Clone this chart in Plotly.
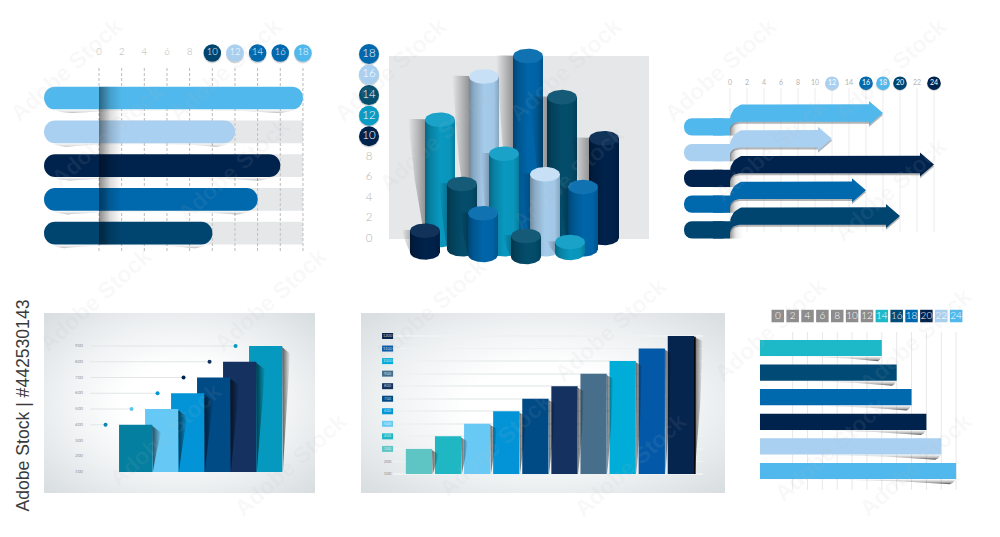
import numpy as np
import plotly.graph_objects as go

# ---------- data ----------
SKY, PALE, NAVY, BLUE, DEEP = "#50b8ec", "#a9d0f0", "#00234d", "#0068ad", "#004470"
TEAL, CYAN, PETROL = "#0a9cc4", "#1eb9c9", "#044f6e"

p1_ticks = [0, 2, 4, 6, 8, 10, 12, 14, 16, 18]
p1_values = [18, 12, 16, 14, 10]
p1_colors = [SKY, PALE, NAVY, BLUE, DEEP]
p1_bubbles = [10, 12, 14, 16, 18]
p1_bubble_colors = [DEEP, PALE, BLUE, BLUE, SKY]

p2_ticks = [0, 2, 4, 6, 8, 10, 12, 14, 16, 18]
p2_bubbles = [10, 12, 14, 16, 18]
p2_bubble_colors = [NAVY, TEAL, PETROL, PALE, BLUE]
cyl_tops = [11.6, 15.8, 17.8, 13.8, 9.8, 5.35, 8.3, 6.3, 5.05, 0.8, 2.5, 0.3, -0.3]
cyl_bases = [-0.1, -0.1, -0.1, -0.1, 0.1, -1.0, -1.0, -1.0, -1.0, -1.3, -1.55, -1.75, -1.35]
cyl_depth_x = [440, 484, 528, 562, 604, 462, 504, 545, 583, 425, 483, 526, 570]
cyl_colors = [TEAL, PALE, BLUE, PETROL, NAVY, PETROL, TEAL, PALE, BLUE, NAVY, BLUE, PETROL, TEAL]

p3_ticks = list(range(0, 26, 2))
p3_values = [18, 12, 24, 16, 20]
p3_colors = [SKY, PALE, NAVY, BLUE, DEEP]
p3_bubbles = [12, 16, 18, 20, 24]
p3_bubble_colors = [PALE, BLUE, SKY, DEEP, NAVY]

p4_ticks = [100, 200, 300, 400, 500, 600, 700, 800, 900]
p4_values = [400, 500, 600, 700, 800, 900]
p4_colors = ["#047f9f", "#66c9f5", "#0394d8", "#004a85", "#14315f", "#0699bf"]
p4_dot_colors = ["#0a86ad", "#5cc6f2", "#0394d8", "#00234d", "#14315f", "#0699bf"]

p5_ticks = [100, 200]
p5_values = [300, 400, 500, 600, 700, 800, 900, 1000, 1100, 1200]
p5_colors = ["#5fc4c4", "#1fb7c4", "#69c9f5", "#0394d8", "#004a85", "#14315f",
             "#476f8c", "#00add8", "#0359a8", "#05244e"]

p6_ticks = list(range(0, 26, 2))
p6_values = [14, 16, 18, 20, 22, 24]
p6_colors = [CYAN, "#004a75", BLUE, NAVY, PALE, SKY]
p6_chip_colors = ["#8e8c8c"] * 7 + p6_colors

side_text = "Adobe Stock | #442530143"
mark_text = "Adobe Stock"
mark_spots = [(66, 70), (225, 70), (390, 70), (565, 70), (720, 70), (890, 70),
              (107, 135), (435, 140), (770, 150), (233, 170), (568, 178), (890, 190),
              (95, 300), (270, 300), (430, 310), (610, 330), (770, 330), (915, 340),
              (165, 435), (290, 465), (495, 445), (630, 465), (830, 450), (915, 465)]

# ---------- helpers ----------
W, H = 1000, 537
FONT = "Lato"
traces = []
shapes = []
layout_axes = {}


def shade(h, f):
    r = [int(h[i:i + 2], 16) for i in (1, 3, 5)]
    if f <= 1:
        c = [int(v * f) for v in r]
    else:
        c = [int(v + (255 - v) * (f - 1)) for v in r]
    return "rgb(%d,%d,%d)" % tuple(c)


def poly(ax, xs, ys, color, grad=None):
    kw = dict(fillcolor=color) if grad is None else dict(fillgradient=grad)
    traces.append(go.Scatter(
        x=list(xs), y=list(ys), xaxis="x" + ax, yaxis="y" + ax, mode="lines", fill="toself",
        line=dict(width=0), hoverinfo="skip", showlegend=False, **kw))


def hgrad(*stops):
    return dict(type="horizontal", colorscale=list(stops))


def vgrad(*stops):
    return dict(type="vertical", colorscale=list(stops))


def labels(ax, xs, ys, texts, size, color="#b4b4b4", marker=None, msize=0, symbol="circle"):
    kw = {}
    if marker is not None:
        kw["marker"] = dict(color=marker, size=msize, symbol=symbol, line=dict(width=0))
    traces.append(go.Scatter(
        x=list(xs), y=list(ys), xaxis="x" + ax, yaxis="y" + ax,
        mode="markers+text" if marker is not None else "text",
        text=[str(t) for t in texts], textposition="middle center",
        textfont=dict(family=FONT, size=size, color=color, weight=400 if size < 8 else 300),
        hoverinfo="skip", showlegend=False, **kw))


def hbar(ax, rows, lengths, base, width, colors, radius=0):
    traces.append(go.Bar(
        orientation="h", y=list(rows), x=list(lengths), base=base, width=width,
        xaxis="x" + ax, yaxis="y" + ax,
        marker=dict(color=colors, cornerradius=radius, line=dict(width=0)),
        hoverinfo="skip", showlegend=False))


def vbar(ax, xs, tops, base, width, colors):
    traces.append(go.Bar(
        x=list(xs), y=[t - base for t in tops], base=base, width=width,
        xaxis="x" + ax, yaxis="y" + ax,
        marker=dict(color=colors, line=dict(width=0)),
        hoverinfo="skip", showlegend=False))


def backdrop(ax, xr, yr):
    gx = np.linspace(xr[0], xr[1], 50)
    gy = np.linspace(yr[0], yr[1], 36)
    X, Y = np.meshgrid(gx, gy)
    cx, cy = (xr[0] + xr[1]) / 2, (yr[0] + yr[1]) / 2
    d = np.sqrt(((X - cx) / ((xr[1] - xr[0]) / 2)) ** 2 + ((Y - cy) / ((yr[1] - yr[0]) / 2)) ** 2)
    traces.append(go.Heatmap(
        x=gx, y=gy, z=np.clip((d - 0.42) / 0.95, 0, 1), zmin=0, zmax=1, zsmooth="best",
        xaxis="x" + ax, yaxis="y" + ax, showscale=False, hoverinfo="skip",
        colorscale=[[0, "#ffffff"], [0.5, "#eef1f2"], [1, "#d9dee1"]]))


def panel(ax, xbox, x0, ux, ybox, y0, uy):
    """Axis box in image pixels; x0/y0 is the pixel of value 0, ux/uy pixels per unit
    (uy > 0: y grows upward, uy < 0: y grows downward)."""
    xr = [(xbox[0] - x0) / ux, (xbox[1] - x0) / ux]
    yr = [(y0 - ybox[1]) / uy, (y0 - ybox[0]) / uy]
    base = dict(showticklabels=False, zeroline=False, showline=False, showgrid=False,
                ticks="", fixedrange=True)
    layout_axes["xaxis" + ax] = dict(domain=[xbox[0] / W, xbox[1] / W], range=xr, anchor="y" + ax, **base)
    layout_axes["yaxis" + ax] = dict(domain=[1 - ybox[1] / H, 1 - ybox[0] / H], range=yr, anchor="x" + ax, **base)
    return xr, yr


def vgrid(ax, ticks, y0, y1, color, dash="solid"):
    for t in ticks:
        shapes.append(dict(type="line", xref="x" + ax, yref="y" + ax, x0=t, x1=t, y0=y0, y1=y1,
                           line=dict(color=color, width=1, dash=dash), layer="below"))


def taper(t, edge=0.03):
    return np.clip(np.minimum(t, 1 - t) / edge, 0, 1)


# ---------- panel 1: rounded bars ----------
panel("", (40, 320), 99, 11.33, (40, 262), 98, -33.8)
vgrid("", p1_ticks, -0.888, 4.556, "#b9b9b9", "3px,2px")
rows1 = list(range(len(p1_values)))
BAR1_H = 0.672
START1 = -4.85
hbar("", rows1[1:], [max(p1_ticks)] * 4, 0, BAR1_H, "rgba(200,201,206,0.45)")
hbar("", rows1, [v - START1 for v in p1_values], START1, BAR1_H, p1_colors, 11)
for r, v in zip(rows1, p1_values):
    t = np.linspace(0, 1, 60)
    xs = START1 + 0.6 + t * (v - START1 - 1.0)
    prof = (0.14 + 0.86 * np.abs(2 * t - 1) ** 3) * taper(t, 0.08)
    top = r + BAR1_H / 2 * np.ones_like(t)
    poly("", np.r_[xs, xs[::-1]], np.r_[top, (top + 0.17 * prof)[::-1]], None,
         vgrad([0, "rgba(0,0,0,0.30)"], [0.35, "rgba(0,0,0,0.12)"], [1, "rgba(0,0,0,0)"]))
top1, bot1 = -BAR1_H / 2, rows1[-1] + BAR1_H / 2
poly("", [0, 2, 2, 0, 0], [top1, top1, bot1, bot1, top1], None,
     hgrad([0, "rgba(0,0,0,0.46)"], [0.5, "rgba(0,0,0,0.14)"], [1, "rgba(0,0,0,0)"]))
y_lab1 = -1.33
plain1 = [t for t in p1_ticks if t not in p1_bubbles]
labels("", plain1, [y_lab1] * len(plain1), plain1, 9.5)
labels("", p1_bubbles, [y_lab1 + 0.04] * 5, [""] * 5, 1, marker="rgba(0,0,0,0.16)", msize=18)
labels("", p1_bubbles, [y_lab1] * 5, p1_bubbles, 9.5, "#ffffff", p1_bubble_colors, 17.5)

# ---------- panel 2: cylinders ----------
panel("2", (355, 660), 0, 1, (30, 270), 239, 10.28)
shapes.append(dict(type="rect", xref="x2", yref="y2", x0=389, x1=649, y0=0, y1=17.8,
                   fillcolor="#e6e7e9", line=dict(width=0), layer="below"))
RX, RY = 15.0, 0.71
for k, (c, top, base, col) in enumerate(zip(cyl_depth_x, cyl_tops, cyl_bases, cyl_colors)):
    reach = 17 if k < 5 else 8
    poly("2", [c, c - RX - reach, c - RX - reach * 0.6, c - RX, c, c],
         [top, top + 0.1, (top + base) / 2, base, base, top], None,
         hgrad([0, "rgba(0,0,0,0)"], [0.62, "rgba(0,0,0,0.42)"], [1, "rgba(0,0,0,0.55)"]))
    t = np.linspace(-1, 1, 41)
    low = base - RY * np.sqrt(1 - t * t)
    xs = np.r_[c - RX, c + RX, c + RX * t[::-1]]
    ys = np.r_[top, top, low[::-1]]
    poly("2", xs, ys, None, hgrad([0, shade(col, 0.66)], [0.16, shade(col, 0.82)], [0.5, shade(col, 0.98)],
                                  [0.82, shade(col, 0.96)], [1, shade(col, 0.80)]))
    th = np.linspace(0, 2 * np.pi, 50)
    poly("2", c + RX * np.cos(th), top + RY * np.sin(th), shade(col, 1.35 if col == PALE else 1.07))
lab2_x = [369] * 5
plain2 = [t for t in p2_ticks if t not in p2_bubbles]
labels("2", lab2_x, plain2, plain2, 11.5)
labels("2", lab2_x, [b - 0.08 for b in p2_bubbles], [""] * 5, 1, marker="rgba(0,0,0,0.16)", msize=21)
labels("2", lab2_x, p2_bubbles, p2_bubbles, 11.5, "#ffffff", p2_bubble_colors, 20)

# ---------- panel 3: arrows ----------
panel("3", (675, 945), 730, 8.5, (70, 245), 113, -25.75)
vgrid("3", p3_ticks, -0.971, 4.62, "#ececec")
rows3 = list(range(5))
PILL_DROP, PILL_H = 0.54, 0.672
pill_rows = [r + PILL_DROP for r in rows3]
hbar("3", pill_rows, [-5.41] * 5, 0, PILL_H, p3_colors, 8.5)
hbar("3", pill_rows, [-2] * 5, 0, PILL_H, p3_colors)
HB, HH, HL = 0.344, 0.466, 1.65
for r in rows3:
    bot = r + PILL_DROP + PILL_H / 2
    poly("3", [0, 1.6, 1.6, 0, 0], [r + HB, r + HB, bot, bot, r + HB], None,
         hgrad([0, "rgba(50,50,50,0.55)"], [0.45, "rgba(120,120,120,0.16)"], [1, "rgba(200,200,200,0)"]))


def arrow(r, v):
    q = np.linspace(0, np.pi / 2, 14)
    rx, ry = 1.75, 0.62
    xs = [v, v - HL, v - HL]
    ys = [r, r - HH, r - HB]
    xs += list(rx * (1 - np.sin(q)))
    ys += list(r - HB + ry * (1 - np.cos(q)))
    rb = 1.1
    xs += [0.0]
    ys += [r + HB + 0.3]
    xs += list(rb * (1 - np.cos(q)))
    ys += list(r + HB + 0.3 * (1 - np.sin(q)))
    xs += [v - HL, v - HL, v]
    ys += [r + HB, r + HH, r]
    return np.array(xs), np.array(ys)


for r, v, col in zip(rows3, p3_values, p3_colors):
    xs, ys = arrow(r, v)
    poly("3", xs, ys + 0.075, "rgba(90,90,90,0.45)")
    poly("3", xs, ys, col)
y_lab3 = -1.16
plain3 = [t for t in p3_ticks if t not in p3_bubbles and t <= 24]
labels("3", plain3, [y_lab3] * len(plain3), plain3, 7)
labels("3", p3_bubbles, [y_lab3 + 0.03] * 5, [""] * 5, 1, marker="rgba(0,0,0,0.16)", msize=14)
labels("3", p3_bubbles, [y_lab3] * 5, p3_bubbles, 7, "#ffffff", p3_bubble_colors, 13.5)

# ---------- panel 4: overlapping steps ----------
xr4, yr4 = panel("4", (44, 315), 135.7, 26, (313, 493), 472 + 100 * 0.1575, 0.1575)
backdrop("4", xr4, yr4)
idx4 = list(range(6))
W4 = 33.3 / 26
for i in reversed(idx4):
    vbar("4", [i], [p4_values[i]], 100, W4, [p4_colors[i]])
DOT4 = -1.16
for i, v in zip(idx4, p4_values):
    poly("4", [-1.756, i + DOT4, i + DOT4, -1.756, -1.756], [v - 3, v - 3, v + 3, v + 3, v - 3], "#e2e6e8")
labels("4", [-2.18] * 9, p4_ticks, p4_ticks, 4.5, "#8f9498")
labels("4", [i + DOT4 for i in idx4], p4_values, [""] * 6, 1, marker=p4_dot_colors, msize=4)
for i, v in zip(idx4, p4_values):
    r = i + W4 / 2
    w = 0.34 if i < 5 else 0.30
    poly("4", [r, r + w, r + w * 0.5, r + 0.02, r],
         [v - 8, v - 50, 100 + (v - 100) * 0.45, 100, v - 8], None,
         hgrad([0, "rgba(0,0,0,0.62)"], [1, "rgba(0,0,0,0)"]))

# ---------- panel 5: ten rising bars ----------
xr5, yr5 = panel("5", (361, 725), 419, 29.1, (313, 493), 474 + 100 * 0.12545, 0.12545)
backdrop("5", xr5, yr5)
idx5 = list(range(10))
hbar("5", p5_ticks + p5_values, [10.65] * 12, -0.89, 6, "#eff2f3")
W5 = 26.3 / 29.1
vbar("5", idx5, p5_values, 100, W5, p5_colors)
for i, v in zip(idx5, p5_values):
    r = i + W5 / 2
    w = 0.30 if i == 9 else 0.22
    poly("5", [r, r + w, r + w * 0.7, r + 0.02, r],
         [v - 10, v - 40, 100 + (v - 100) * 0.5, 100, v - 10], None,
         hgrad([0, "rgba(0,0,0,0.6)"], [1, "rgba(0,0,0,0)"]))
poly("5", [9 + W5 / 2, 9 + W5 / 2 + 0.055, 9 + W5 / 2 + 0.055, 9 + W5 / 2],
     [p5_values[-1] - 5, p5_values[-1] - 5, 100, 100], "#000000")
for i, v in zip(idx5, p5_values):
    traces.append(go.Scatter(x=[-1.27, -0.89], y=[v, v], xaxis="x5", yaxis="y5", mode="lines",
                             line=dict(color=p5_colors[i], width=6), hoverinfo="skip",
                             showlegend=False))
labels("5", [-1.08] * 2, p5_ticks, p5_ticks, 4.5, "#8f9498")
labels("5", [-1.08] * 10, p5_values, p5_values, 4, "rgba(255,255,255,0.75)")

# ---------- panel 6: flat bars ----------
panel("6", (755, 965), 777.8, 7.43, (303, 495), 348, -24.6)
vgrid("6", p6_ticks[1:], -0.65, 5.77, "#e8e8e8")
rows6 = list(range(6))
START6, H6 = -2.4, 0.659
hbar("6", rows6, [v - START6 for v in p6_values], START6, H6, p6_colors)
for r, v in zip(rows6, p6_values):
    t = np.linspace(0, 1, 60)
    xs = START6 + t * (v - START6)
    top = r + H6 / 2 * np.ones_like(t)
    prof = (0.05 + t ** 3) * taper(t, 0.025)
    poly("6", np.r_[xs, xs[::-1]], np.r_[top, (top + 0.22 * prof)[::-1]], None,
         vgrad([0, "rgba(0,0,0,0.7)"], [0.4, "rgba(0,0,0,0.28)"], [1, "rgba(0,0,0,0)"]))
y_lab6 = -1.3
labels("6", p6_ticks, [y_lab6] * 13, p6_ticks, 10, "#ffffff", p6_chip_colors, 12.5, "square")

# ---------- text overlays ----------
notes = [dict(x=x / W, y=1 - y / H, xref="paper", yref="paper", text="<b>%s</b>" % mark_text, showarrow=False,
              textangle=-42, xanchor="center", yanchor="middle",
              font=dict(family="Liberation Sans", size=23, color="rgba(185,185,190,0.09)"))
         for x, y in mark_spots]
notes.append(dict(x=22.5 / W, y=1 - 406 / H, xref="paper", yref="paper", text=side_text,
                  showarrow=False, textangle=-90, xanchor="center", yanchor="middle",
                  font=dict(family="Liberation Sans", size=17.6, color="#3a3a3a")))

fig = go.Figure(traces)
fig.update_layout(width=W, height=H, margin=dict(l=0, r=0, t=0, b=0), paper_bgcolor="white",
                  plot_bgcolor="rgba(0,0,0,0)", barmode="overlay", showlegend=False,
                  annotations=notes, shapes=shapes, **layout_axes)
fig.write_html("out.html", config=dict(displayModeBar=False),
               post_script="document.body.style.margin='0';document.documentElement.style.overflow='hidden';")
